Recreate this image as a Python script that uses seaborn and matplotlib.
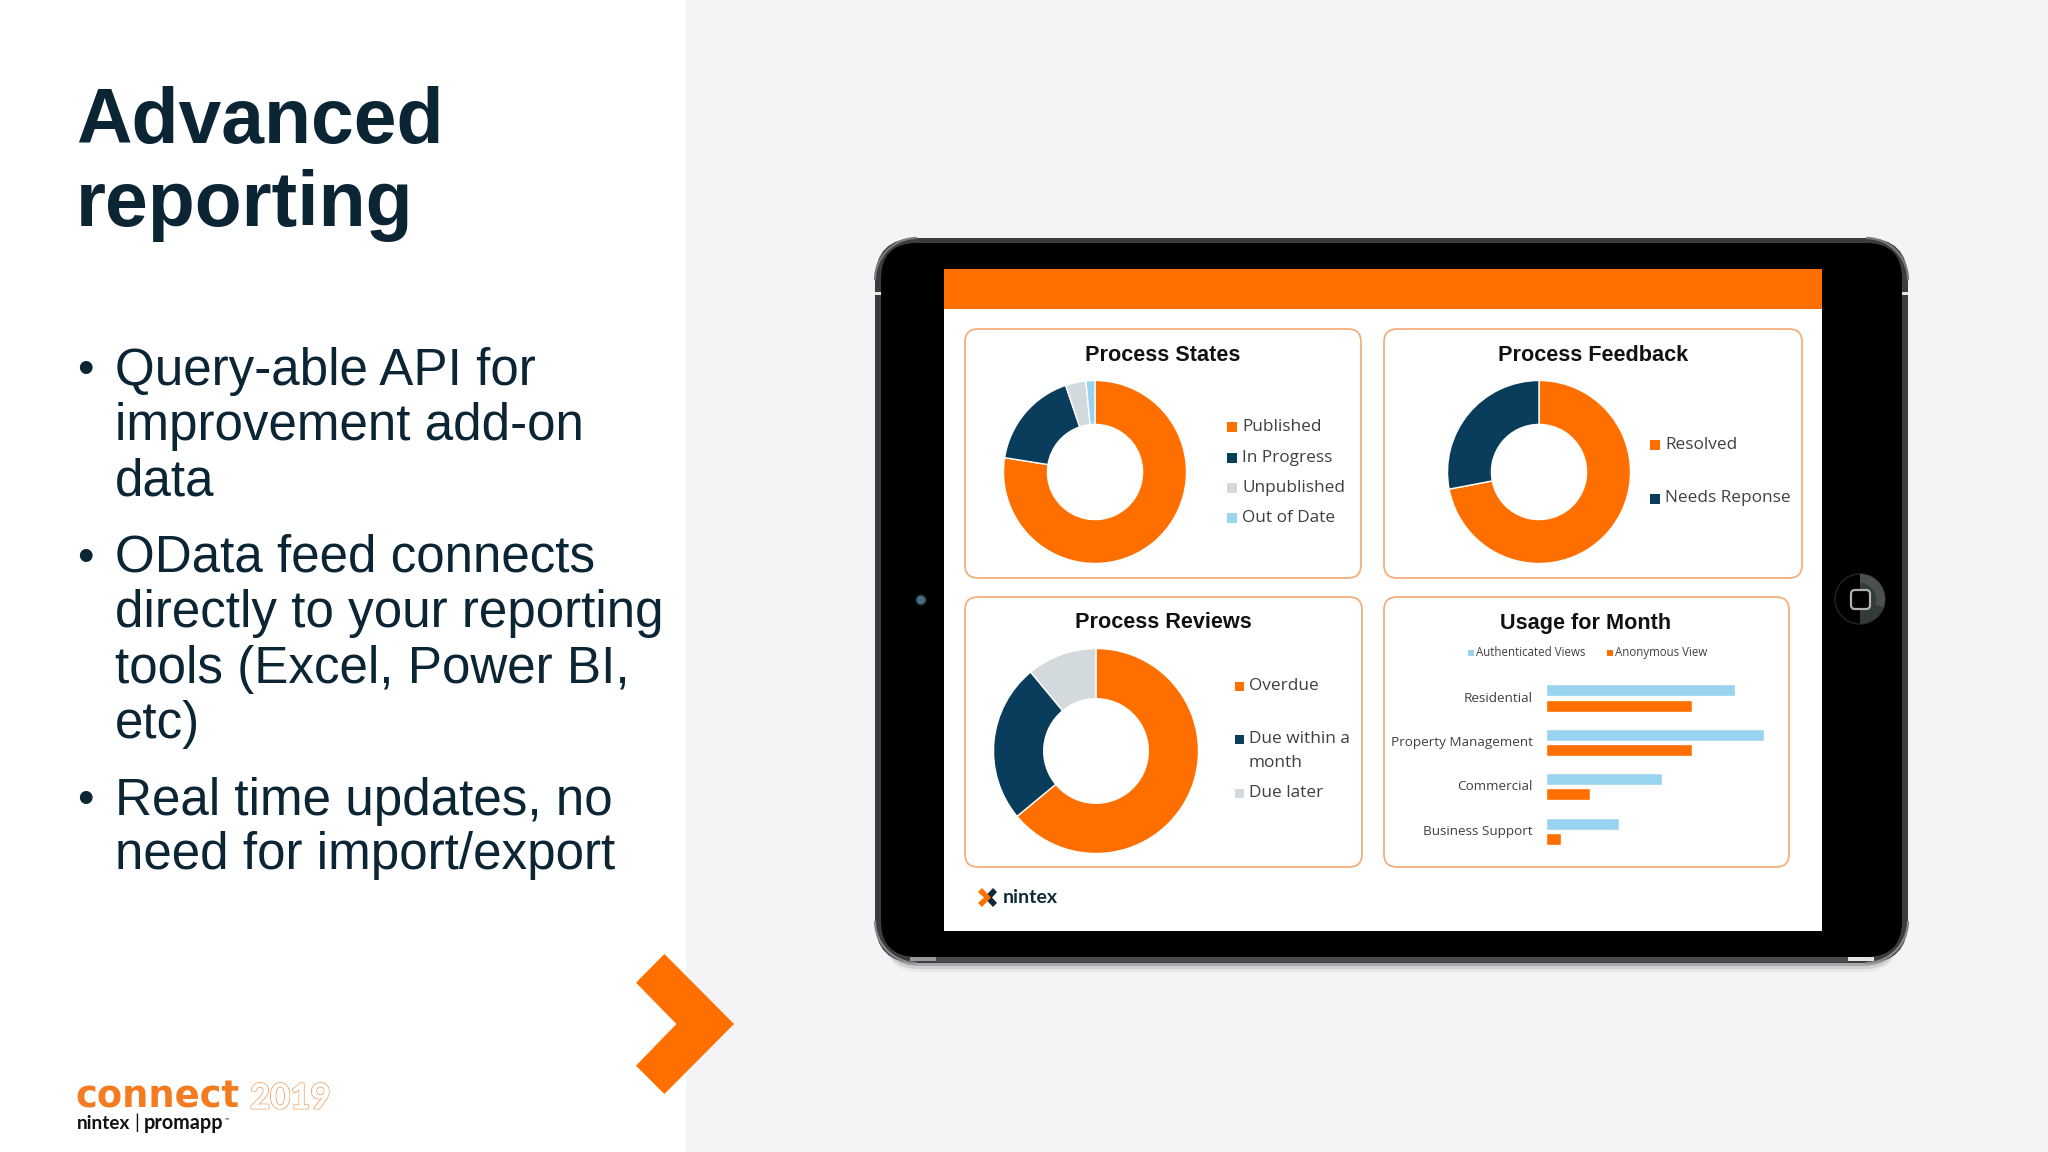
import matplotlib
matplotlib.use("Agg")
import matplotlib.pyplot as plt
from matplotlib.patches import FancyBboxPatch, Rectangle, Polygon, Circle, Wedge, Arc
from matplotlib.transforms import ScaledTranslation
import matplotlib.patheffects as pe
import seaborn as sns
import pandas as pd

sns.set_theme(style="white")

ORANGE = "#FF6F00"
NAVY = "#0A3D5C"
GREY = "#D3DADD"
LBLUE = "#9AD3EF"
INK = "#0B2535"
LEG = "#404040"
BORDER = "#F3B07E"

title_lines = ["Advanced", "reporting"]
bullets = [
    ["Query-able API for", "improvement add-on", "data"],
    ["OData feed connects", "directly to your reporting", "tools (Excel, Power BI,", "etc)"],
    ["Real time updates, no", "need for import/export"],
]

states_labels = ["Published", "In Progress", "Unpublished", "Out of Date"]
states_values = [77.5, 17.3, 3.6, 1.6]
feedback_labels = ["Resolved", "Needs Reponse"]
feedback_values = [72, 28]
reviews_labels = ["Overdue", "Due within a\nmonth", "Due later"]
reviews_values = [64, 25, 11]

usage_categories = ["Residential", "Property Management", "Commercial", "Business Support"]
auth_views = [13, 15, 8, 5]
anon_views = [10, 10, 3, 1]
usage_series = ["Authenticated Views", "Anonymous View"]

W, H = 2048, 1152
fig = plt.figure(figsize=(W / 100, H / 100), dpi=100, facecolor="#F4F4F6")
bg = fig.add_axes([0, 0, 1, 1])
bg.set_xlim(0, W)
bg.set_ylim(H, 0)
bg.axis("off")


def inset(x0, y0, x1, y1):
    a = fig.add_axes([x0 / W, 1 - y1 / H, (x1 - x0) / W, (y1 - y0) / H])
    a.patch.set_alpha(0)
    return a


def rbox(x0, y0, x1, y1, r, **kw):
    p = FancyBboxPatch((x0 + r, y0 + r), x1 - x0 - 2 * r, y1 - y0 - 2 * r,
                       boxstyle=f"round,pad={r},rounding_size={r}", **kw)
    bg.add_patch(p)
    return p


# left panel
bg.add_patch(Rectangle((0, 0), 686, H, fc="white", ec="none"))
for s, yy in zip(title_lines, [142.5, 225.5]):
    bg.text(76, yy, s, family="Liberation Sans", weight="bold", fontsize=55.4,
            color=INK, va="baseline", ha="left")

baselines = [[384.5, 440, 495.5], [571.5, 627.5, 682.5, 738], [814.5, 869.5]]
for group, ys in zip(bullets, baselines):
    bg.text(77, ys[0] - 1, "•", family="Liberation Sans", fontsize=34, color=INK, va="baseline")
    for s, yy in zip(group, ys):
        bg.text(115, yy, s, family="Liberation Sans", fontsize=36.8, color=INK, va="baseline")

# chevron
bg.add_patch(Polygon([(664.4, 954), (734, 1024), (664.4, 1094), (636, 1065.7),
                      (676.4, 1024), (636, 982.7)], closed=True, fc=ORANGE, ec="none"))

# connect logo
bg.text(75, 1108, "connect", family="DejaVu Sans", weight="bold", fontsize=26.5, color="#F47B20", va="baseline")
bg.text(250, 1108.5, "2019", family="Lato", weight="bold", fontsize=25, color="white", va="baseline",
        path_effects=[pe.withStroke(linewidth=1.3, foreground="#F0A060"), pe.Normal()])
bg.text(77, 1129, "nintex", family="Lato", weight="bold", fontsize=13.6, color="#111111", va="baseline")
bg.text(134, 1129, "|", family="Lato", fontsize=14, color="#111111", va="baseline")
bg.text(144, 1129, "promapp", family="Lato", weight="bold", fontsize=14.2, color="#111111", va="baseline")
bg.text(225, 1121, "™", family="Lato", fontsize=4, color="#111111", va="baseline")

# tablet
for y1, c in [(972, "#E8E8EA"), (969, "#CFCFD2"), (966, "#A8A8AB")]:
    rbox(885, 900, 1898, y1, 34, fc=c, ec="none")
rbox(875, 238, 1908, 963, 42, fc="#3C3C40", ec="none")
rbox(881, 243, 1902, 957, 36, fc="#000000", ec="none")
bg.add_patch(Rectangle((936, 957), 912, 4.5, fc="#4A4A4E", ec="none"))
bg.add_patch(Rectangle((1848, 957), 26, 4, fc="#E4E4E4", ec="none"))
bg.add_patch(Rectangle((910, 957), 26, 4, fc="#9A9A9E", ec="none"))
for cx, cy, th1, th2, c in [(917, 280, 180, 270, "#7A7A7E"), (1866, 280, 270, 360, "#7A7A7E"),
                            (917, 921, 90, 180, "#8A8A8E"), (1866, 921, 0, 90, "#8A8A8E")]:
    bg.add_patch(Arc((cx, cy), 84, 84, theta1=th1, theta2=th2, ec=c, lw=1.6))
bg.add_patch(Rectangle((875, 292), 6, 3, fc="#E8E8E8", ec="none"))
bg.add_patch(Rectangle((1902, 292), 6, 3, fc="#E8E8E8", ec="none"))

bg.add_patch(Circle((921, 600), 5, fc="#4A6C80", ec="#1a2a35", lw=1))
bg.add_patch(Circle((1860, 599), 25, fc="none", ec="#1E1E1E", lw=1.2))
bg.add_patch(Wedge((1860, 599), 25, -90, 90, fc="#333A38", ec="none"))
bg.add_patch(Wedge((1860, 599), 25, -90, 20, width=9, fc="#59605E", ec="none", alpha=0.6))
rbox(1851, 590, 1870, 609, 4, fc="#000000", ec="#B0B0B0", lw=1.6)

# screen
bg.add_patch(Rectangle((944, 269), 878, 662, fc="white", ec="none"))
bg.add_patch(Rectangle((944, 269), 878, 40, fc=ORANGE, ec="none"))

# cards
cards = [(965, 329, 1361, 578, "Process States", 1163, 355.5),
         (1384, 329, 1802, 578, "Process Feedback", 1593, 355.5),
         (965, 597, 1362, 867, "Process Reviews", 1163.5, 623),
         (1384, 597, 1789, 867, "Usage for Month", 1586, 623)]
for x0, y0, x1, y1, t, tx, ty in cards:
    rbox(x0, y0, x1, y1, 13, fc="white", ec=BORDER, lw=1.3)
    bg.text(tx, ty, t, family="Liberation Sans", weight="bold", fontsize=15.6,
            color="#111111", ha="center", va="center")


def donut(cx, cy, R, values, colors, hole):
    a = inset(cx - R, cy - R, cx + R, cy + R)
    a.pie(values, colors=colors, startangle=90, counterclock=False, radius=1,
          wedgeprops=dict(width=1 - hole, edgecolor="white", linewidth=1.0))
    a.set_xlim(-1, 1)
    a.set_ylim(-1, 1)
    a.set_aspect("equal")
    return a


donut(1095, 472, 91.5, states_values, [ORANGE, NAVY, GREY, LBLUE], 0.52)
donut(1539, 472, 91.5, feedback_values, [ORANGE, NAVY], 0.52)
donut(1096, 751, 102.5, reviews_values, [ORANGE, NAVY, GREY], 0.51)


def legend_col(labels, colors, sx, tx, ys, size=10, fs=12.4):
    for lab, c, yy in zip(labels, colors, ys):
        bg.add_patch(Rectangle((sx, yy - size / 2), size, size, fc=c, ec="none"))
        parts = lab.split("\n")
        for i, part in enumerate(parts):
            bg.text(tx, yy + i * 24, part, family="Open Sans", fontsize=fs, color=LEG,
                    ha="left", va="center")


legend_col(states_labels, [ORANGE, NAVY, GREY, LBLUE], 1227, 1242, [427, 457.5, 487.5, 517.5])
legend_col(feedback_labels, [ORANGE, NAVY], 1650, 1665, [445, 498.5])
legend_col(reviews_labels, [ORANGE, NAVY, GREY], 1235, 1249, [686, 739, 793], size=9)

# usage chart
df = pd.DataFrame({
    "category": usage_categories * 2,
    "series": [usage_series[0]] * 4 + [usage_series[1]] * 4,
    "views": auth_views + anon_views,
})
ax = inset(1546, 675.8, 1546 + 14.55 * 15.5, 853.4)
sns.barplot(data=df, y="category", x="views", hue="series", order=usage_categories,
            hue_order=usage_series, palette=[LBLUE, ORANGE], width=0.68, gap=0.2,
            legend=False, ax=ax, orient="h", saturation=1)
ax.set_xlim(0, 15.5)
ax.set_ylim(3.5, -0.5)
ax.set_xlabel("")
ax.set_ylabel("")
ax.set_xticks([])
ax.tick_params(axis="y", length=0, pad=9.6)
shift = ScaledTranslation(0, 1.3 / 100, fig.dpi_scale_trans)
for lab in ax.get_yticklabels():
    lab.set_family("Open Sans")
    lab.set_fontsize(9.7)
    lab.set_color(LEG)
    lab.set_transform(lab.get_transform() + shift)
sns.despine(ax=ax, left=True, bottom=True)

for name, c, sx, tx in zip(usage_series, [LBLUE, ORANGE], [1468, 1607], [1476, 1615]):
    bg.add_patch(Rectangle((sx, 649.5), 5.5, 6, fc=c, ec="none"))
    bg.text(tx, 652.5, name, family="Open Sans", fontsize=8.3, color=LEG, ha="left", va="center")

# nintex logo
bg.add_patch(Polygon([(993, 888), (997, 892), (992, 897.5), (997, 903), (993, 907), (984, 897.5)],
                     closed=True, fc="#0F2B3C", ec="none"))
bg.add_patch(Polygon([(978, 892), (982, 888), (991, 897.5), (982, 907), (978, 903), (984, 897.5)],
                     closed=True, fc=ORANGE, ec="none"))
bg.text(1003, 897.5, "nintex", family="Lato", weight="bold", fontsize=14, color="#0F2B3C",
        ha="left", va="center")

fig.savefig("out.png", dpi=100, facecolor=fig.get_facecolor())
